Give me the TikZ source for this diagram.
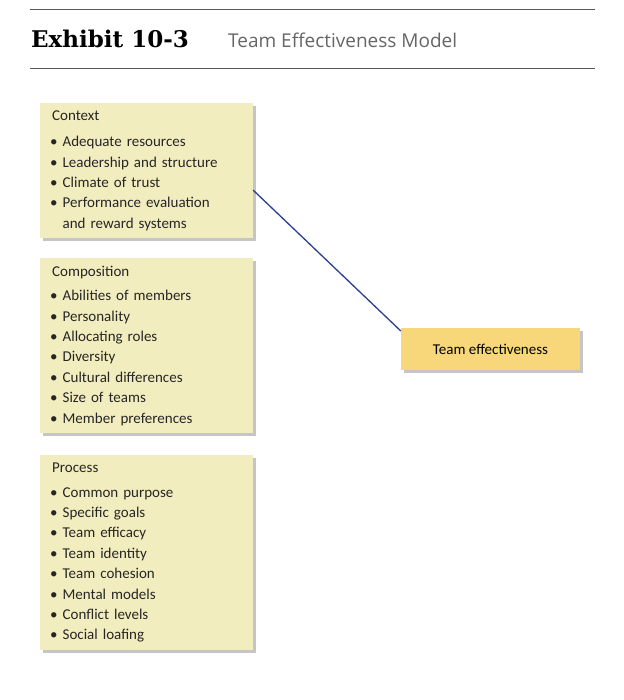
\documentclass[tikz,border=0pt]{standalone}
\usepackage{fontspec}
\setmainfont{Carlito}
\newfontfamily\titleserif{DejaVu Serif}
\newfontfamily\titlesans{Open Sans}
\usetikzlibrary{arrows.meta,shadows}
\definecolor{boxfill}{HTML}{F2EDBE}
\definecolor{goalfill}{HTML}{F8D77A}
\definecolor{arrowc}{HTML}{2B3F8C}
\tikzset{
  lbox/.style={fill=boxfill, draw=none, drop shadow={shadow xshift=3pt,shadow yshift=-3pt,opacity=0.45}, minimum width=213pt, anchor=north west, inner sep=0pt, align=left, text width=205pt, font=\fontsize{15}{20.4}\selectfont, text=black!85},
  gbox/.style={fill=goalfill, draw=none, drop shadow={shadow xshift=3pt,shadow yshift=-3pt,opacity=0.45}, minimum width=179pt, minimum height=42pt, font=\fontsize{15}{18}\selectfont},
  arr/.style={-{Latex[length=10pt,width=8pt]}, draw=arrowc, line width=1.3pt},
  rule/.style={draw=black!65, line width=1pt}
}
\newcommand{\itm}{\hspace*{6pt}\textbullet\ }
\begin{document}
\begin{tikzpicture}[x=1pt,y=-1pt]
\useasboundingbox (0,0) rectangle (623,700);
\fill[white] (0,0) rectangle (623,700);
\coordinate (t1) at (30,10); \coordinate (t2) at (595,10);
\coordinate (b1) at (30,69); \coordinate (b2) at (595,69);
\draw[rule] (t1) -- (t2);
\draw[rule] (b1) -- (b2);
\node[anchor=base west, inner sep=0pt, font=\titleserif\bfseries\fontsize{23}{26}\selectfont] (ex) at (31,48) {Exhibit 10-3};
\node[anchor=base west, inner sep=0pt, font=\titlesans\fontsize{19}{22}\selectfont, text=black!60] (tt) at (228,48) {Team Effectiveness Model};

\node[lbox, minimum height=135pt] (ctx) at (40,103) {\vspace*{6pt}\hspace*{8pt}Context\\
\itm Adequate resources\\
\itm Leadership and structure\\
\itm Climate of trust\\
\itm Performance evaluation\\
\hspace*{6pt}\phantom{\textbullet\ }and reward systems};
\node[lbox, minimum height=175pt] (cmp) at (40,258) {\vspace*{4pt}\hspace*{8pt}Composition\\
\itm Abilities of members\\
\itm Personality\\
\itm Allocating roles\\
\itm Diversity\\
\itm Cultural differences\\
\itm Size of teams\\
\itm Member preferences};
\node[lbox, minimum height=195pt] (prc) at (40,455) {\vspace*{4pt}\hspace*{8pt}Process\\
\itm Common purpose\\
\itm Specific goals\\
\itm Team efficacy\\
\itm Team identity\\
\itm Team cohesion\\
\itm Mental models\\
\itm Conflict levels\\
\itm Social loafing};
\node[gbox] (te) at (490.5,349) {Team effectiveness};

\coordinate (s1) at (253,190);
\coordinate (s2) at (253,349);
\coordinate (s3) at (253,503);
\draw[arr] (s1) -- (te.north west |- 0,331) -- cycle;
\end{tikzpicture}
\end{document}
